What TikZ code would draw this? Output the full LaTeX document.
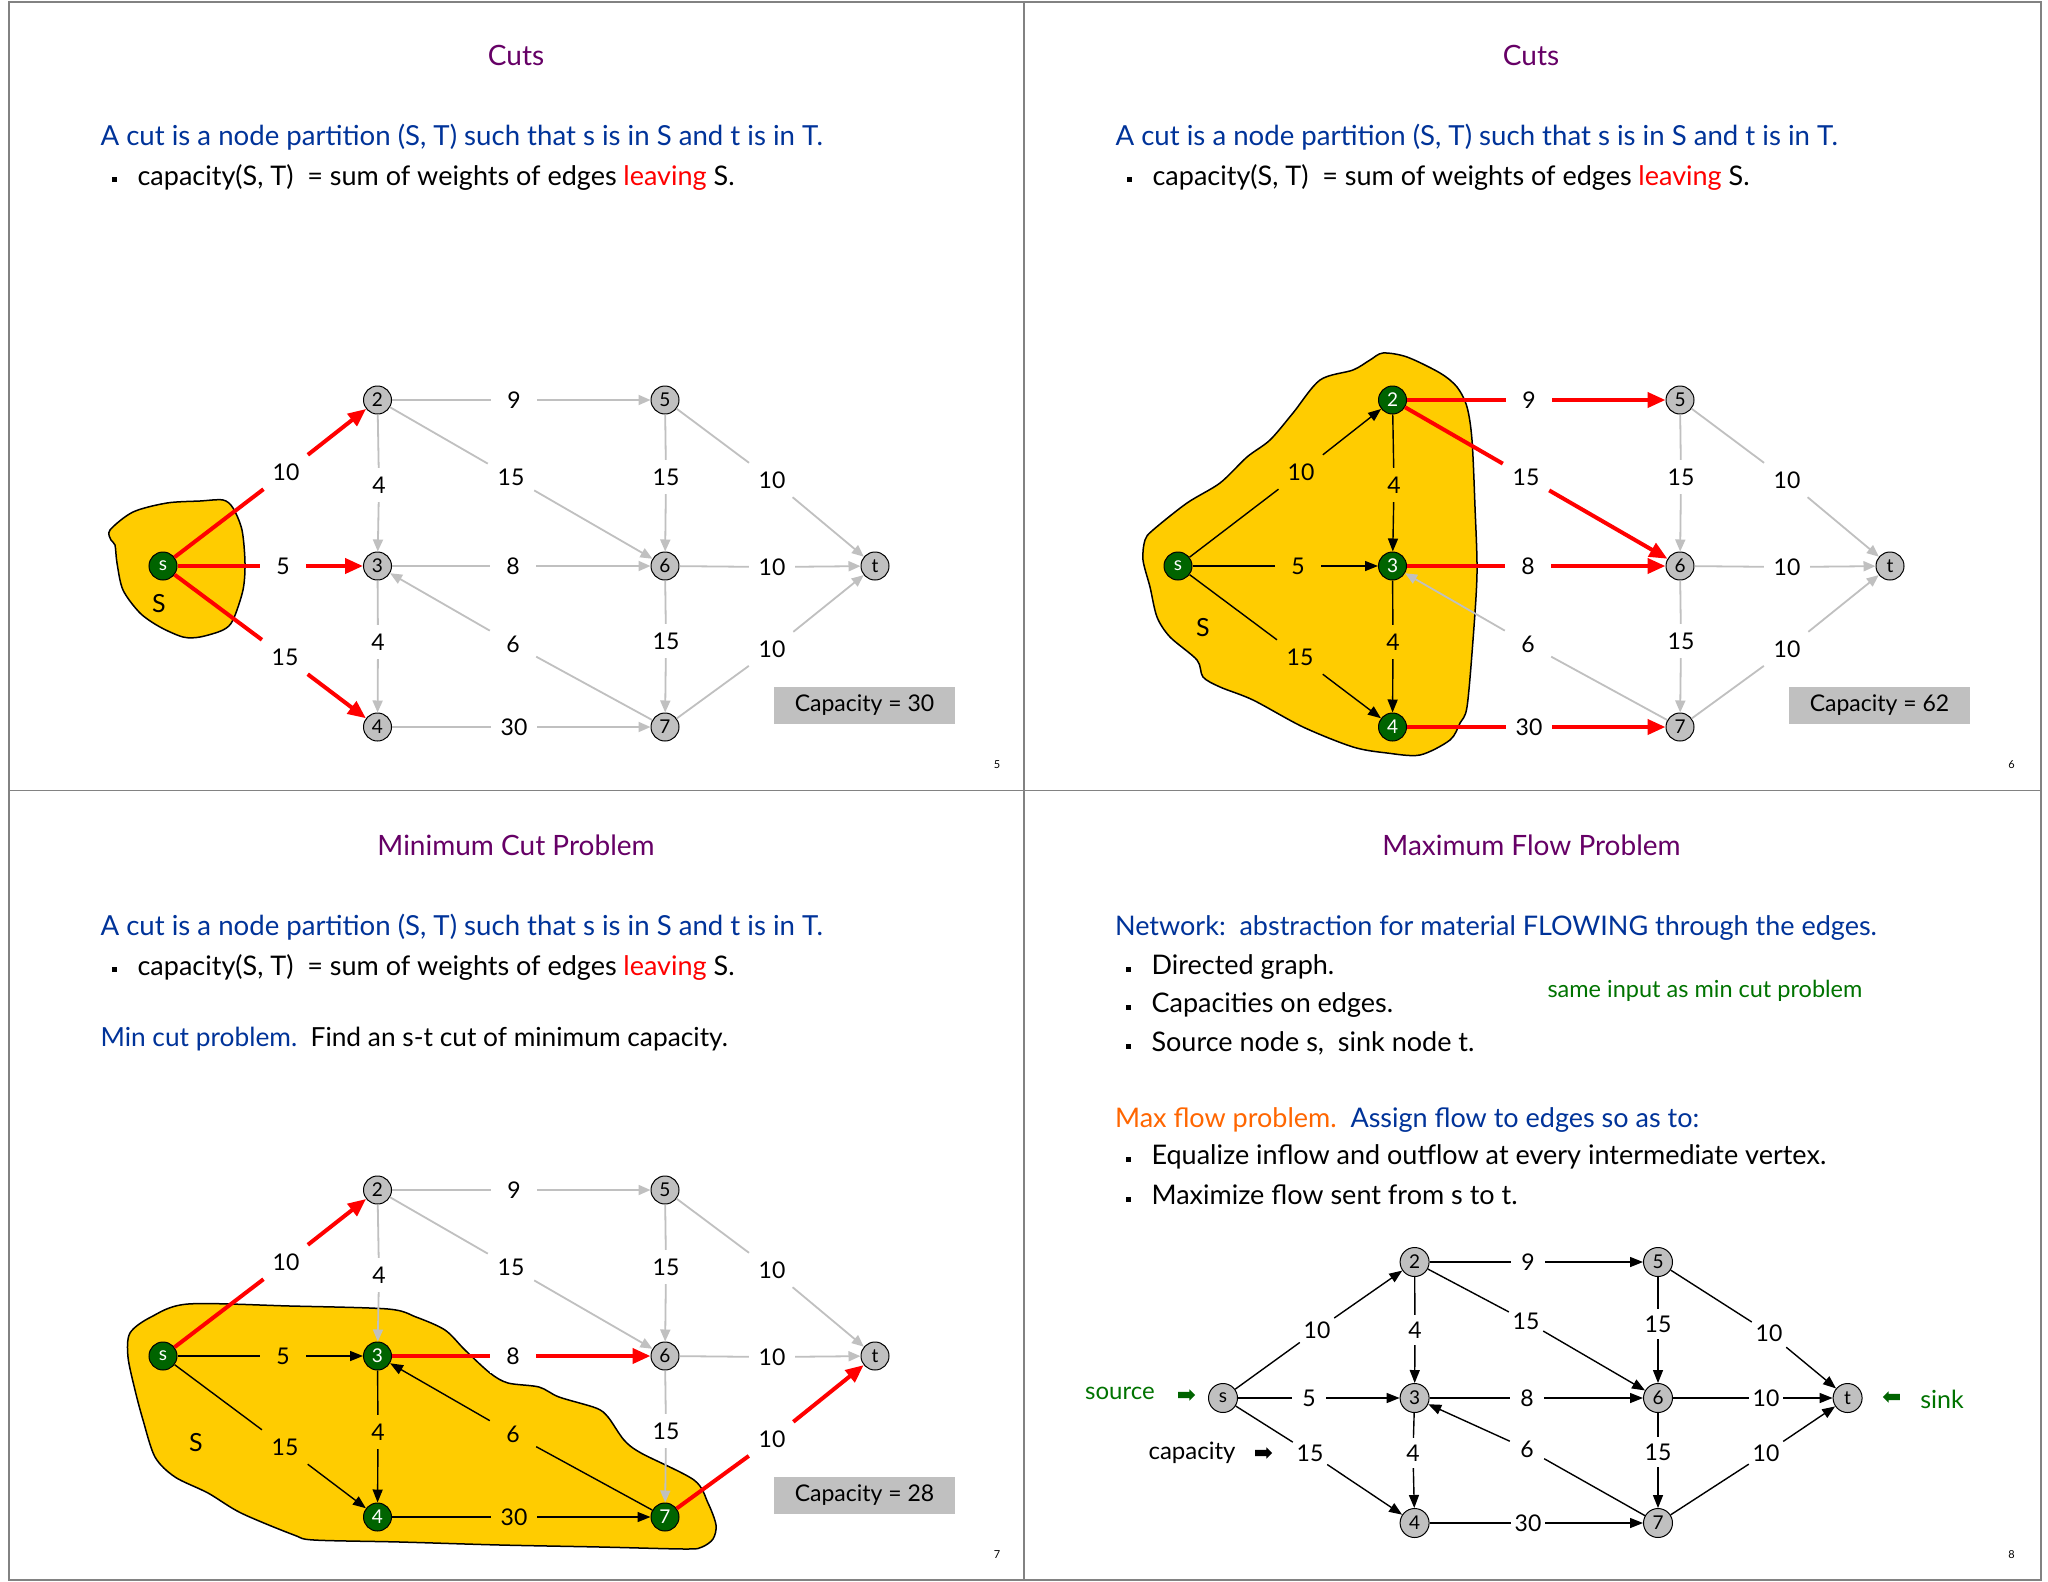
\documentclass[tikz,border=0pt]{standalone}
\usepackage{fontspec}
\setmainfont{Lato}
\usepackage{xcolor}
\usetikzlibrary{arrows.meta,shapes.arrows,positioning,calc}

\definecolor{nodegray}{RGB}{192,192,192}
\definecolor{edgegray}{RGB}{192,192,192}
\definecolor{sgreen}{RGB}{0,100,0}
\definecolor{txtgreen}{RGB}{0,115,0}
\definecolor{cutyellow}{RGB}{255,204,0}
\definecolor{titlepurple}{RGB}{102,0,102}
\definecolor{txtblue}{RGB}{0,51,153}
\definecolor{txtorange}{RGB}{255,102,0}
\definecolor{framegray}{RGB}{130,130,130}

\newcommand{\setfs}[1]{\fontsize{#1}{#1}\selectfont}

\begin{document}
\begin{tikzpicture}[x=1pt,y=-1pt,
  vtx/.style={circle, draw, line width=1pt, fill=nodegray, minimum size=28pt, inner sep=0pt, font=\setfs{19}},
  svtx/.style={vtx, fill=sgreen, text=white},
  wt/.style={minimum width=46pt, minimum height=34pt, inner sep=0pt, font=\setfs{23}},
  wtw/.style={wt, fill=white},
  wtb/.style={minimum width=34pt, minimum height=30pt, inner sep=0pt, font=\setfs{23}},
  gedge/.style={draw=edgegray, line width=1.8pt, >={Triangle[length=12pt,width=10pt]}},
  bedge/.style={draw=black, line width=1.4pt, >={Triangle[length=13pt,width=10pt]}},
  redge/.style={draw=red, line width=4pt, >={Triangle[length=18pt,width=15pt]}},
  blob/.style={draw=black, line width=1.5pt, fill=cutyellow},
  slide/.style={draw=framegray, line width=1.5pt},
  title/.style={anchor=base, text=titlepurple, font=\setfs{28}},
  body/.style={anchor=base west, font=\setfs{27}},
  defn/.style={body, text=txtblue, font=\setfs{27.6}},
  bsq/.style={rectangle, fill=black, minimum size=5pt, inner sep=0pt},
  capbox/.style={fill=nodegray, minimum width=181pt, minimum height=37pt, inner sep=0pt, font=\setfs{23}},
  pgno/.style={font=\setfs{11}},
  side/.style={font=\setfs{24}},
  blk/.style={single arrow, inner xsep=4pt, inner ysep=3pt, minimum height=17pt, single arrow head extend=2.5pt, single arrow head indent=0pt}
]
\useasboundingbox (0,0) rectangle (2048,1582);
\fill[white] (0,0) rectangle (2048,1582);

% slide frames
\draw[slide] (9,2) rectangle (1024,790.5);
\draw[slide] (1024,2) rectangle (2041,790.5);
\draw[slide] (9,790.5) rectangle (1024,1580);
\draw[slide] (1024,790.5) rectangle (2041,1580);

% ---------- slide 5: first cut ----------
\node[title] (ttlA) at (516,65) {Cuts};
\node[defn] (defA) at (97,145) {A cut is a node partition (S, T) such that s is in S and t is in T.};
\node[bsq] (bqA) at (114,179) {};
\node[body] (capA) at (134,185) {capacity(S, T)\ \ = sum of weights of edges \textcolor{red}{leaving} S.};

\draw[blob] plot[smooth cycle] coordinates {(110,530) (133,512) (167,503) (200,501) (223,500) (233,508) (242,530) (245,563) (243,590) (233,620) (223,630) (200,637) (183,637) (160,627) (140,613) (123,590) (117,563) (115,545) (111,540)};
\node[font=\setfs{25}] (SA) at (159,604) {S};

\foreach \n/\px/\py/\st in {s/163/566/svtx, 2/377.5/400/vtx, 3/377.5/566/vtx, 4/377.5/727/vtx,
    5/665/400/vtx, 6/665/566/vtx, 7/665/727/vtx, t/875/566/vtx}
  \node[\st] (A\n) at (\px,\py) {\n};

\foreach \u/\v/\px/\py/\w/\st in {s/2/286/472/10/redge, s/3/283/566/5/redge, s/4/285/657/15/redge,
    2/5/514/400/9/gedge, 2/3/379/485/4/gedge, 2/6/511/477/15/gedge, 3/6/513/566/8/gedge,
    3/4/378/642/4/gedge, 5/6/666/477/15/gedge, 5/t/772/480/10/gedge, 6/t/772/567/10/gedge,
    6/7/666/641/15/gedge, 7/3/513/644/6/gedge, 7/t/772/649/10/gedge, 4/7/514/727/30/gedge} {
  \node[wt] (A\u\v) at (\px,\py) {\w};
  \draw[\st] (A\u) -- (A\u\v);
  \draw[\st,->] (A\u\v) -- (A\v);
}
\node[capbox] (cbA) at (864.5,705.5) {Capacity = 30};
\node[pgno] (pgA) at (997,765) {5};

% ---------- slide 6: second cut ----------
\draw[blob] plot[smooth cycle] coordinates {(1383,353) (1407,357) (1440,373) (1457,387) (1467,407) (1472,440) (1475,507) (1477,573) (1473,640) (1467,707) (1460,723) (1450,740) (1420,755) (1387,753) (1353,747) (1303,727) (1253,700) (1220,687) (1203,677) (1197,660) (1170,637) (1157,617) (1150,587) (1143,560) (1145,540) (1153,530) (1187,503) (1220,483) (1247,457) (1270,440) (1293,413) (1320,380) (1353,370) (1370,360)};
\begin{scope}[shift={(1015,0)}]
\node[title] (ttlB) at (516,65) {Cuts};
\node[defn] (defB) at (97,145) {A cut is a node partition (S, T) such that s is in S and t is in T.};
\node[bsq] (bqB) at (114,179) {};
\node[body] (capB) at (134,185) {capacity(S, T)\ \ = sum of weights of edges \textcolor{red}{leaving} S.};
\node[font=\setfs{25}] (SB) at (188,628) {S};

\foreach \n/\px/\py/\st in {s/163/566/svtx, 2/377.5/400/svtx, 3/377.5/566/svtx, 4/377.5/727/svtx,
    5/665/400/vtx, 6/665/566/vtx, 7/665/727/vtx, t/875/566/vtx}
  \node[\st] (B\n) at (\px,\py) {\n};

\foreach \u/\v/\px/\py/\w/\st in {s/2/286/472/10/bedge, s/3/283/566/5/bedge, s/4/285/657/15/bedge,
    2/5/514/400/9/redge, 2/3/379/485/4/bedge, 2/6/511/477/15/redge, 3/6/513/566/8/redge,
    3/4/378/642/4/bedge, 5/6/666/477/15/gedge, 5/t/772/480/10/gedge, 6/t/772/567/10/gedge,
    6/7/666/641/15/gedge, 7/3/513/644/6/gedge, 7/t/772/649/10/gedge, 4/7/514/727/30/redge} {
  \node[wt] (B\u\v) at (\px,\py) {\w};
  \draw[\st] (B\u) -- (B\u\v);
  \draw[\st,->] (B\u\v) -- (B\v);
}
\node[capbox] (cbB) at (864.5,705.5) {Capacity = 62};
\node[pgno] (pgB) at (996.5,765) {6};
\end{scope}

% ---------- slide 7: minimum cut ----------
\draw[blob] plot[smooth cycle] coordinates {(188,1304) (290,1306) (388,1309) (416,1317) (445,1330) (465,1350) (490,1373) (508,1383) (539,1387) (559,1397) (596,1408) (608,1417) (624,1440) (641,1453) (694,1480) (708,1503) (716,1525) (713,1539) (702,1547) (686,1549) (600,1547) (500,1545) (400,1542) (314,1540) (294,1535) (241,1513) (208,1493) (175,1477) (155,1457) (143,1420) (135,1390) (128,1357) (130,1333) (151,1317)};
\begin{scope}[shift={(0,790)}]
\node[title] (ttlC) at (516,65) {Minimum Cut Problem};
\node[defn] (defC) at (97,145) {A cut is a node partition (S, T) such that s is in S and t is in T.};
\node[bsq] (bqC) at (114,179) {};
\node[body] (capC) at (134,185) {capacity(S, T)\ \ = sum of weights of edges \textcolor{red}{leaving} S.};
\node[body, font=\setfs{26.3}] (minC) at (97,256) {\textcolor{txtblue}{Min cut problem.}\ \ Find an s-t cut of minimum capacity.};
\node[font=\setfs{25}] (SC) at (196,653) {S};

\foreach \n/\px/\py/\st in {s/163/566/svtx, 2/377.5/400/vtx, 3/377.5/566/svtx, 4/377.5/727/svtx,
    5/665/400/vtx, 6/665/566/vtx, 7/665/727/svtx, t/875/566/vtx}
  \node[\st] (C\n) at (\px,\py) {\n};

\foreach \u/\v/\px/\py/\w/\st/\ls in {s/2/286/472/10/redge/wt, s/3/283/566/5/bedge/wt, s/4/285/657/15/bedge/wt,
    2/5/514/400/9/gedge/wt, 2/3/379/485/4/gedge/wt, 2/6/511/477/15/gedge/wt, 3/6/513/566/8/redge/wtw,
    3/4/378/642/4/bedge/wt, 5/6/666/477/15/gedge/wt, 5/t/772/480/10/gedge/wt, 6/t/772/567/10/gedge/wt,
    6/7/666/641/15/gedge/wt, 7/3/513/644/6/bedge/wt, 7/t/772/649/10/redge/wt, 4/7/514/727/30/bedge/wt} {
  \node[\ls] (C\u\v) at (\px,\py) {\w};
  \draw[\st] (C\u) -- (C\u\v);
  \draw[\st,->] (C\u\v) -- (C\v);
}
\node[capbox] (cbC) at (864.5,705) {Capacity = 28};
\node[pgno] (pgC) at (997,765) {7};
\end{scope}

% ---------- slide 8: maximum flow ----------
\node[title] (ttlD) at (1531.5,855) {Maximum Flow Problem};
\node[body, text=txtblue] (netD) at (1111.5,935) {Network:\ \ abstraction for material FLOWING through the edges.};
\node[bsq] (bq1D) at (1128.5,969) {};
\node[body] (dirD) at (1148,974) {Directed graph.};
\node[bsq] (bq2D) at (1128.5,1007) {};
\node[body] (capD) at (1148,1012) {Capacities on edges.};
\node[bsq] (bq3D) at (1128.5,1046) {};
\node[body] (srcnD) at (1148,1051) {Source node s,\ \ sink node t.};
\node[body, font=\setfs{23.5}, text=txtgreen] (sameD) at (1544,997) {same input as min cut problem};
\node[body] (maxD) at (1111.5,1127) {\textcolor{txtorange}{Max flow problem.}\ \ \textcolor{txtblue}{Assign flow to edges so as to:}};
\node[bsq] (bq4D) at (1128.5,1159) {};
\node[body] (eqD) at (1148,1164) {Equalize inflow and outflow at every intermediate vertex.};
\node[bsq] (bq5D) at (1128.5,1199) {};
\node[body] (mxD) at (1148,1204) {Maximize flow sent from s to t.};

\foreach \n/\px/\py in {s/1223/1398, 2/1414.6/1262, 3/1414.6/1398, 4/1414.6/1523,
    5/1658/1262, 6/1658/1398, 7/1658/1523, t/1847.6/1398}
  \node[vtx, minimum size=29pt] (D\n) at (\px,\py) {\n};

\foreach \u/\v/\px/\py/\w in {s/2/1317/1330/10, s/3/1309/1398/5, s/4/1310/1453/15,
    2/5/1528/1262/9, 2/3/1415/1330/4, 2/6/1526/1321/15, 3/6/1527/1398/8,
    3/4/1413/1453/4, 5/6/1658/1324/15, 5/t/1769/1333/10, 6/t/1766/1398/10,
    6/7/1658/1452/15, 7/3/1527/1449/6, 7/t/1766/1453/10, 4/7/1528/1523/30} {
  \node[wtb] (D\u\v) at (\px,\py) {\w};
  \draw[bedge] (D\u) -- (D\u\v);
  \draw[bedge,->] (D\u\v) -- (D\v);
}

\node[side, text=txtgreen] (srcD) at (1120,1393) {source};
\node[blk, fill=sgreen] (srcarD) at (1185,1395) {};
\node[side] (cpD) at (1192,1453) {capacity};
\node[blk, fill=black] (cparD) at (1262,1453) {};
\node[blk, fill=sgreen, shape border rotate=180] (snkarD) at (1893,1397) {};
\node[side, font=\setfs{25}, text=txtgreen] (snkD) at (1942,1399) {sink};
\node[pgno] (pgD) at (2011.5,1555) {8};
\end{tikzpicture}
\end{document}
